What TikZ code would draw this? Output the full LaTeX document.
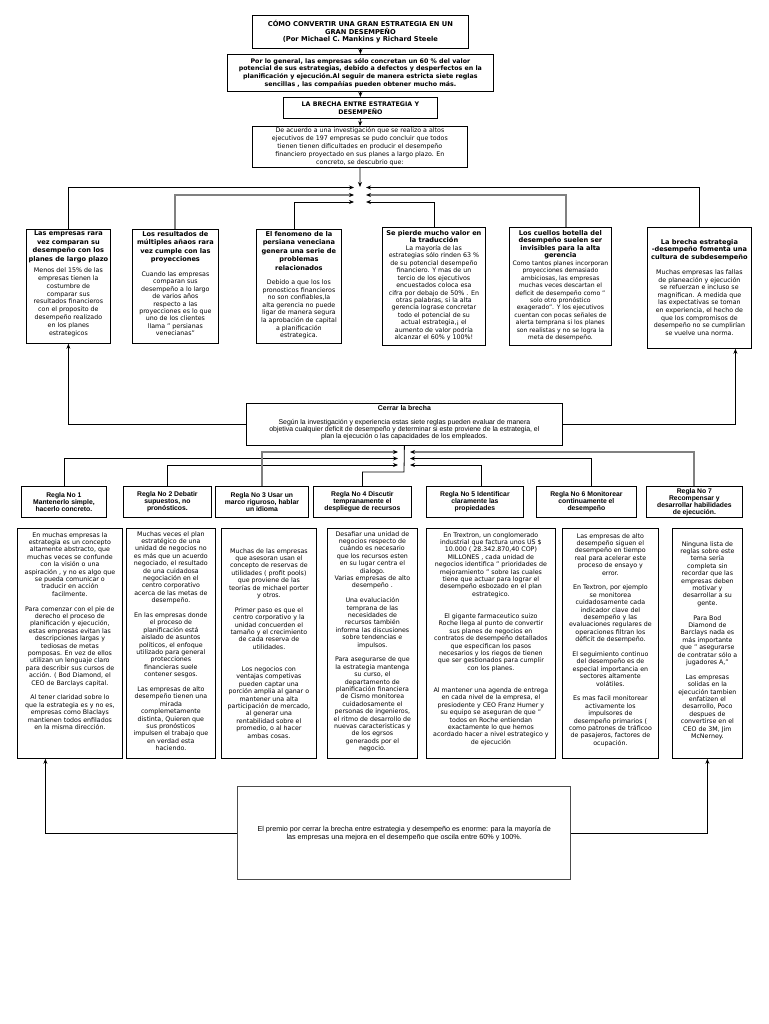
\documentclass[tikz,border=0pt]{standalone}
\usepackage{fontspec}
\setmainfont{DejaVu Sans}
\newfontfamily\zzlib{Liberation Sans}
\usetikzlibrary{arrows.meta}

\newcommand{\mbx}[4]{\begin{minipage}[c][#2pt][t]{#1pt}\centering\vspace*{#3pt}#4\par\end{minipage}}
\newcommand{\mbxc}[3]{\begin{minipage}[c][#2pt][c]{#1pt}\centering #3\par\end{minipage}}
\newcommand{\zzT}{\bfseries\fontsize{6.7}{7.4}\selectfont}
\newcommand{\zzB}{\bfseries\fontsize{6.3}{7.7}\selectfont}
\newcommand{\zzF}{\mdseries\fontsize{6.3}{8.1}\selectfont}
\newcommand{\zzH}[1]{\bfseries\fontsize{6.6}{#1}\selectfont}
\newcommand{\zzA}[1]{\mdseries\fontsize{6.3}{#1}\selectfont}
\newcommand{\zzD}{\mdseries\fontsize{6.3}{7.4}\selectfont}
\newcommand{\zzR}{\zzlib\bfseries\fontsize{6.8}{7.0}\selectfont}
\newcommand{\zzC}{\zzlib\mdseries\fontsize{6.9}{7.2}\selectfont}
\newcommand{\zzCb}{\zzlib\bfseries\fontsize{6.9}{7.2}\selectfont}
\newcommand{\zzP}{\zzlib\mdseries\fontsize{7.2}{8}\selectfont}
\newcommand{\zzg}{\par\vspace{7.4pt}}
\newcommand{\zzgg}{\par\vspace{14.8pt}}

\tikzset{
  box/.style={draw=black, line width=0.8pt, inner sep=0pt, anchor=north west, fill=white},
  pbox/.style={draw=black!70, line width=1.4pt, inner sep=0pt, anchor=north west, fill=white},
  conn/.style={line width=0.8pt, draw=black},
  gconn/.style={line width=2pt, draw=black!50},
  arr/.style={-{Stealth[length=5pt,width=4pt,color=black]}},
}

\begin{document}
\begin{tikzpicture}[x=1pt,y=-1pt]
\fill[white] (0,0) rectangle (768,1024);
\useasboundingbox (0,0) rectangle (768,1024);

% ---------- top column ----------
\node[box] (T) at (252,15) {\mbxc{216}{33}{\zzT CÓMO CONVERTIR UNA GRAN ESTRATEGIA  EN UN\\GRAN DESEMPEÑO\\(Por Michael C. Mankins y Richard Steele}};
\node[box] (B2) at (227,54) {\mbxc{266}{37}{\zzB Por lo general, las empresas sólo concretan un 60 \% del valor\\potencial de sus estrategias, debido a defectos y desperfectos en la\\planificación y ejecución.Al seguir de manera estricta siete reglas\\sencillas , las compañías pueden obtener mucho más.}};
\node[box] (B3) at (283,97) {\mbxc{154}{21}{\zzB LA BRECHA ENTRE ESTRATEGIA Y\\DESEMPEÑO}};
\node[box] (B4) at (252,126) {\mbxc{215}{41}{\zzF De acuerdo a una investigación que se realizo  a altos\\ejecutivos de 197 empresas se pudo concluir que todos\\tienen tienen dificultades en producir el desempeño\\financiero  proyectado en sus planes a largo plazo. En\\concreto, se descubrio que:}};

\draw[conn,arr] (T.south) -- (B2.north);
\draw[conn,arr] (B2.south) -- (B3.north);
\draw[conn,arr] (B3.south) -- (B4.north);

% ---------- six findings ----------
\node[box] (A1) at (26,229) {\mbx{84}{114}{1.5}{{\zzH{8.6}Las empresas rara\\vez comparan su\\desempeño con los\\planes de largo plazo\par}\vspace{3.4pt}{\zzA{7.8}Menos del 15\% de las\\empresas tienen la\\costumbre de\\comparar sus\\resultados financieros\\con el proposito de\\desempeño  realizado\\en los planes\\estrategicos\par}}};
\node[box] (A2) at (132,229) {\mbx{86}{114}{2}{{\zzH{8.4}Los resultados de\\múltiples añaos rara\\vez cumple con las\\proyecciones\par}\vspace{7.4pt}{\zzA{7.4}Cuando las empresas\\comparan sus\\desempeño a lo largo\\de varios años\\respecto a las\\proyecciones es lo que\\uno de los clientes\\llama " persianas\\venecianas"\par}}};
\node[box] (A3) at (256,229) {\mbx{85}{114}{2}{{\zzH{8.5}El fenomeno de la\\persiana veneciana\\genera una serie de\\problemas\\relacionados\par}\vspace{6.4pt}{\zzA{7.6}Debido a que los los\\pronosticos financieros\\no son confiables,la\\alta gerencia no puede\\ligar de manera segura\\la aprobación de capital\\a planificación\\estrategica.\par}}};
\node[box] (A4) at (382,227) {\mbx{103}{118}{3}{{\zzH{7.45}Se pierde mucho valor en\\la traducción\par}{\zzA{7.45}La mayoría de las\\estrategias sólo rinden 63 \%\\de su potencial desempeño\\financiero. Y mas de un\\tercio de los ejecutivos\\encuestados coloca esa\\cifra por debajo de 50\% . En\\otras palabras, si la alta\\gerencia lograse concretar\\todo el potencial de su\\actual estrategia,¡ el\\aumento de valor podría\\alcanzar el 60\% y 100\%!\par}}};
\node[box] (A5) at (509,227) {\mbx{102}{118}{3}{{\zzH{7.45}Los cuellos botella del\\desempeño suelen ser\\invisibles para la alta\\gerencia\par}{\mdseries\fontsize{6.1}{7.45}\selectfont Como tantos planes incorporan\\proyecciones demasiado\\ambiciosas, las empresas\\muchas veces descartan el\\deficit de desempeño como "\\solo otro pronóstico\\exagerado". Y los ejecutivos\\cuentan con pocas señales de\\alerta temprana si los planes\\son realistas y no se logra la\\meta de desempeño.\par}}};
\node[box] (A6) at (647,227) {\mbx{104}{121}{12}{{\zzH{7.5}La brecha estrategia\\-desempeño fomenta una\\cultura de subdesempeño\par}\vspace{7.4pt}{\zzA{7.6}Muchas empresas las fallas\\de planeación y ejecución\\se refuerzan e incluso se\\magnifican. A medida que\\las expectativas se toman\\en experiencia, el hecho de\\que los compromisos de\\desempeño no se cumplirían\\se vuelve una norma.\par}}};

% junction points (top)
\coordinate (jt) at (360,187);
\coordinate (jL1) at (354,187.5);
\coordinate (jL2) at (354,195);
\coordinate (jL3) at (354,202);
\coordinate (jR1) at (366,187.5);
\coordinate (jR2) at (366,195);
\coordinate (jR3) at (366,202);
\draw[conn,arr] (B4.south) -- (jt);
\draw[conn,arr] (A1.north) |- (jL1);
\draw[gconn,arr] (A2.north) |- (jL2);
\draw[conn,arr] ([xshift=-5pt]A3.north) |- (jL3);
\draw[conn,arr] (A4.north) |- (jR3);
\draw[gconn,arr] ([xshift=6pt]A5.north) |- (jR2);
\draw[conn,arr] (A6.north) |- (jR1);

% ---------- closing the gap ----------
\node[box] (C) at (246,403) {\mbx{316}{42}{2.5}{{\zzCb Cerrar la brecha\par}\vspace{6pt}{\zzC Según la investigación y experiencia estas siete reglas pueden evaluar de manera\\objetiva cualquier deficit de desempeño y determinar si este proviene de la estrategia, el\\plan la ejecución o las capacidades de los empleados.\par}}};
\draw[conn,arr] (C.west) -| (A1.south);
\draw[conn,arr] (C.east) -| ([xshift=36pt]A6.south);

% ---------- seven rules ----------
\node[box] (R1) at (21,486) {\mbxc{85}{31}{\zzR Regla No 1\\Mantenerlo simple,\\hacerlo concreto.}};
\node[box] (R2) at (123,486) {\mbxc{88}{31}{\zzR Regla No 2  Debatir\\supuestos, no\\pronósticos.}};
\node[box] (R3) at (215,486) {\mbxc{93}{31}{\zzR Regla  No 3  Usar un\\marco riguroso, hablar\\un idioma}};
\node[box] (R4) at (313,486) {\mbxc{98}{31}{\zzR Regla No 4  Discutir\\tempranamente el\\despliegue de recursos}};
\node[box] (R5) at (426,486) {\mbxc{97}{31}{\zzR Regla No 5   Identificar\\claramente las\\propiedades}};
\node[box] (R6) at (536,486) {\mbxc{100}{31}{\zzR Regla No 6 Monitorear\\continuamente el\\desempeño}};
\node[box] (R7) at (646,486) {\mbxc{96}{31}{\zzR Regla No 7\\Recompensar y\\desarrollar habilidades\\de ejecución.}};

\coordinate (j4) at (404,472);
\coordinate (rl1) at (398,452);
\coordinate (rl2) at (398,458.5);
\coordinate (rl3) at (398,465);
\coordinate (rr1) at (410,452);
\coordinate (rr2) at (410,458.5);
\coordinate (rr3) at (410,465);
\draw[conn] (C.south) -- (j4) -| (R4.north);
\draw[conn,arr] (R1.north) |- (rl2);
\draw[conn,arr] (R2.north) |- (rl3);
\draw[gconn,arr] (R3.north) |- (rl1);
\draw[conn,arr] ([xshift=6pt]R5.north) |- (rr3);
\draw[conn,arr] ([xshift=5pt]R6.north) |- (rr2);
\draw[gconn,arr] (R7.north) |- (rr1);

% ---------- rule details ----------
\node[box] (D1) at (17,528) {\mbx{105}{230}{4}{\zzD En muchas empresas la\\estrategia es un concepto\\altamente abstracto, que\\muchas veces se confunde\\con la visión o una\\aspiración  , y no es algo que\\se pueda comunicar o\\traducir en acción\\facilmente.\zzg Para comenzar con el pie de\\derecho el proceso de\\planificación y ejecución,\\estas empresas evitan las\\descripciones largas y\\tediosas de metas\\pomposas. En vez de ellos\\utilizan un lenguaje claro\\para describir sus cursos de\\acción. ( Bod Diamond, el\\CEO de Barclays capital.\zzg Al tener claridad sobre lo\\que la estrategia es y no es,\\empresas como Blaclays\\mantienen todos enfilados\\en la misma dirección.}};
\node[box] (D2) at (126,528) {\mbx{89}{230}{3}{\zzD Muchas veces el plan\\estratégico de una\\unidad de negocios no\\es más que un acuerdo\\negociado, el resultado\\de una  cuidadosa\\negociación en el\\centro corporativo\\acerca de las metas de\\desempeño.\zzg En las empresas donde\\el proceso de\\planificación está\\aislado de asuntos\\políticos, el enfoque\\utilizado para general\\protecciones\\financieras suele\\contener sesgos.\zzg Las empresas de alto\\desempeño tienen una\\mirada\\complemetamente\\distinta, Quieren que\\sus pronósticos\\impulsen el trabajo que\\en verdad esta\\haciendo.}};
\node[box] (D3) at (221,528) {\mbx{95}{230}{20}{\zzD Muchas de las empresas\\que asesoran  usan el\\concepto de reservas de\\utilidades ( profit pools)\\que proviene de las\\teorías de michael porter\\y otros.\zzg Primer paso es que el\\centro corporativo y la\\unidad concuerden el\\tamaño y el crecimiento\\de cada reserva de\\utilidades.\zzgg Los negocios con\\ventajas competivas\\pueden captar una\\porción amplia al ganar o\\mantener una alta\\participación de mercado,\\al generar una\\rentabilidad sobre el\\promedio, o al hacer\\ambas cosas.}};
\node[box] (D4) at (327,528) {\mbx{90}{230}{3}{\zzD Desafiar una unidad de\\negocios respecto de\\cuándo es necesario\\que los recursos esten\\en su lugar centra el\\dialogo.\\Varias empresas de alto\\desempeño .\zzg Una evaluciación\\temprana de las\\necesidades de\\recursos también\\informa las discusiones\\sobre tendencias e\\impulsos.\zzg Para asegurarse de que\\la estrategia mantenga\\su curso, el\\departamento de\\planificación financiera\\de Cismo monitorea\\cuidadosamente el\\personas de ingenieros,\\el ritmo de desarrollo de\\nuevas caracteristicas y\\de los egrsos\\generaods por el\\negocio.}};
\node[box] (D5) at (426,528) {\mbx{129}{230}{4}{\zzD En Trextron, un conglomerado\\industrial que factura unos US \$\\10.000 ( 28.342.870,40 COP)\\MILLONES , cada unidad de\\negocios identifica " prioridades de\\mejoramiento " sobre las cuales\\tiene que actuar para lograr el\\desempeño esbozado en el plan\\estrategico.\zzgg El gigante farmaceutico suizo\\Roche llega al punto  de convertir\\sus planes de negocios en\\contratos de desempeño detallados\\que especifican los pasos\\necesarios y los riegos de tienen\\que ser gestionados para cumplir\\con los planes.\zzgg Al mantener una agenda de entrega\\en cada nivel de la empresa, el\\presiodente y CEO Franz Humer y\\su equipo se aseguran de que "\\todos en Roche entiendan\\exactamente lo que hemos\\acordado hacer a nivel estrategico y\\de ejecución}};
\node[box] (D6) at (562,528) {\mbx{96}{230}{5}{\zzD Las empresas de alto\\desempeño siguen el\\desempeño en tiempo\\real para acelerar este\\proceso de ensayo y\\error.\zzg En Textron, por ejemplo\\se monitorea\\cuidadosamente cada\\indicador clave del\\desempeño y las\\evaluaciones regulares de\\operaciones filtran los\\déficit de desempeño.\zzg El seguimiento continuo\\del desempeño es  de\\especial importancia en\\sectores altamente\\volátiles.\zzg Es mas facil monitorear\\activamente los\\impulsores de\\desempeño primarios (\\como patrones de tráficoo\\de pasajeros, factores de\\ocupación.}};
\node[box] (D7) at (672,528) {\mbx{70}{230}{13}{\zzD Ninguna lista de\\reglas sobre este\\tema sería\\completa sin\\recordar que las\\empresas deben\\motivar y\\desarrollar a su\\gente.\zzg Para Bod\\Diamond de\\Barclays nada es\\más importante\\que " asegurarse\\de contratar sólo a\\jugadores A,"\zzg Las empresas\\solidas en la\\ejecución tambien\\enfatizen el\\desarrollo, Poco\\despues de\\convertirse en el\\CEO de 3M, Jim\\McNerney.}};

% ---------- prize ----------
\node[pbox] (P) at (237,786) {\mbxc{333}{93}{\zzP El premio por cerrar la brecha entre estrategia y desempeño es enorme: para la mayoría de\\las empresas una mejora en el desempeño que oscila entre 60\% y 100\%.}};
\draw[conn,arr] (P.west) -| ([xshift=-24.5pt]D1.south);
\draw[conn,arr] (P.east) -| (D7.south);

\end{tikzpicture}
\end{document}
